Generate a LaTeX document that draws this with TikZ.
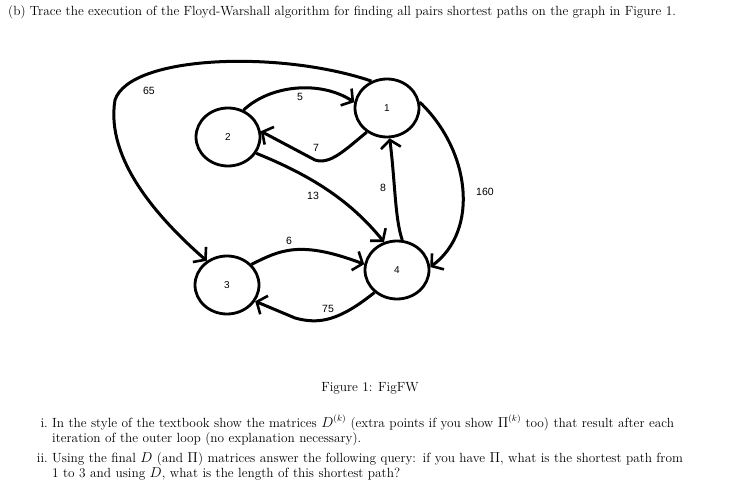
\documentclass[tikz,border=0pt]{standalone}
\usepackage{fontspec}
\newfontfamily\lab{Liberation Sans}
\usetikzlibrary{arrows.meta,shapes.geometric}
\begin{document}
\begin{tikzpicture}[x=1pt,y=-1pt,
 vtx/.style={draw,line width=2.8pt,ellipse,minimum width=64pt,minimum height=58pt,inner sep=0pt,font=\lab\fontsize{10}{11}\selectfont},
 ed/.style={line width=3pt,-{Straight Barb[length=8pt,width=20pt,line width=2.6pt]}},
 wl/.style={font=\lab\fontsize{10.5}{12}\selectfont,inner sep=1pt},
 txt/.style={anchor=north west,inner sep=0pt,font=\fontsize{13.3}{15.5}\selectfont,align=left}]
\useasboundingbox (0,0) rectangle (739,486);
\node[vtx] (n2) at (228,137) {2};
\node[vtx] (n1) at (387,108) {1};
\node[vtx] (n4) at (397,270) {4};
\node[vtx] (n3) at (227,285) {3};
\draw[ed] (n2.60) .. controls (270,85) and (320,80) .. (n1.170);
\draw[ed] (n1.230) .. controls (345,150) and (330,165) .. (315,160) -- (n2.10);
\draw[ed] (n2.330) .. controls (310,175) and (350,200) .. (n4.115);
\draw[ed] (n4.80) .. controls (395,220) and (395,180) .. (n1.275);
\draw[ed] (n1.10) .. controls (470,150) and (480,230) .. (n4.5);
\draw[ed] (n1.120) .. controls (280,50) and (130,55) .. (115,100) .. controls (105,160) and (160,220) .. (n3.130);
\draw[ed] (n3.40) .. controls (280,250) and (300,240) .. (n4.170);
\draw[ed] (n4.225) .. controls (340,320) and (320,325) .. (295,318) -- (n3.330);
\node[wl] (w5) at (300,97) {5};
\node[wl] (w7) at (316,148) {7};
\node[wl] (w13) at (313,196) {13};
\node[wl] (w8) at (383,188) {8};
\node[wl] (w160) at (485,192) {160};
\node[wl] (w65) at (149,91) {65};
\node[wl] (w6) at (289,241) {6};
\node[wl] (w75) at (328,309) {75};
\node[txt] (hdr) at (8,5) {(b) Trace the execution of the Floyd-Warshall algorithm for finding all pairs shortest paths on the graph in Figure 1.};
\node[txt,anchor=north] (cap) at (370,382) {Figure 1: FigFW};
\node[txt,text width=680pt] (i1) at (52,415) {\llap{i.~}In the style of the textbook show the matrices $D^{(k)}$ (extra points if you show $\Pi^{(k)}$ too) that result after each\\ iteration of the outer loop (no explanation necessary).};
\node[txt,text width=680pt] (i2) at (52,452) {\llap{ii.~}Using the final $D$ (and $\Pi$) matrices answer the following query: if you have $\Pi$, what is the shortest path from\\ 1 to 3 and using $D$, what is the length of this shortest path?};
\end{tikzpicture}
\end{document}
